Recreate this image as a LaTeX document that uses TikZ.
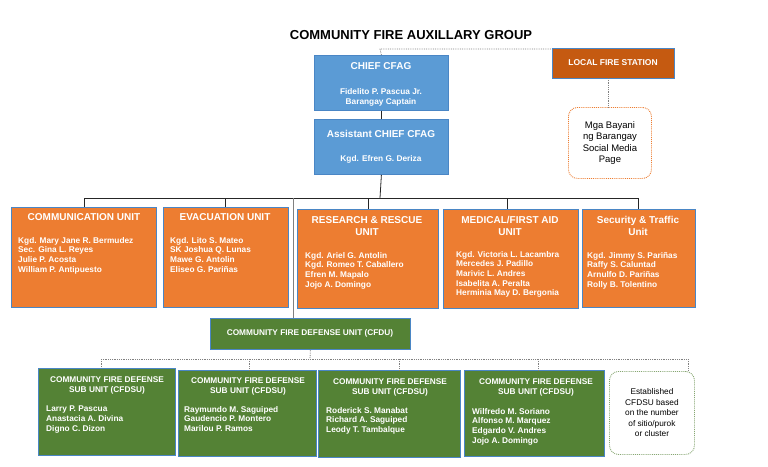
\documentclass[tikz,border=0pt]{standalone}
\usepackage{fontspec}
\setmainfont{Liberation Sans}
\begin{document}
\begin{tikzpicture}[x=1pt,y=-1pt,
  box/.style={draw=#1, line width=0.8pt, anchor=north west, inner sep=0pt},
  blu/.style={box=blue!40!black!60!white, fill=cblue, draw=bblue},
  org/.style={fill=corange, draw=bblue, line width=0.8pt, anchor=north west, inner sep=0pt},
  grn/.style={fill=cgreen, draw=bblue, line width=0.8pt, anchor=north west, inner sep=0pt},
  ttl/.style={text=white, font=\fontsize{10}{11.5}\selectfont\bfseries, align=center, anchor=north},
  nm/.style={text=white, font=\fontsize{8.3}{9.6}\selectfont\bfseries, align=left, anchor=north west, inner sep=0pt},
  ln/.style={line width=0.8pt, black!85},
  dl/.style={densely dotted, gray, line width=0.8pt}]
\definecolor{cblue}{HTML}{5B9BD5}
\definecolor{bblue}{HTML}{4A86C5}
\definecolor{corange}{HTML}{ED7D31}
\definecolor{cgreen}{HTML}{548235}
\definecolor{cbrown}{HTML}{C55A11}
\useasboundingbox (0,0) rectangle (768,466);
\fill[white] (0,0) rectangle (768,466);
\node[font=\fontsize{13}{14}\selectfont\bfseries] (title) at (411,35) {COMMUNITY FIRE AUXILLARY GROUP};
% chief
\node[org, fill=cblue, minimum width=134pt, minimum height=55pt] (chief) at (314,55) {};
\node[ttl] (chiefT) at (381,59) {CHIEF CFAG};
\node[ttl, font=\fontsize{8.3}{10}\selectfont\bfseries] (chiefN) at (381,85) {Fidelito P. Pascua Jr.\\Barangay Captain};
\node[org, fill=cblue, minimum width=134pt, minimum height=55pt] (asst) at (314,119) {};
\node[ttl] (asstT) at (381,127) {Assistant CHIEF CFAG};
\node[ttl, font=\fontsize{8.3}{10}\selectfont\bfseries] (asstN) at (381,152) {Kgd. Efren G. Deriza};
\node[org, fill=cbrown, minimum width=122pt, minimum height=30pt] (lfs) at (552,48) {};
\node[text=white, font=\fontsize{8.5}{10}\selectfont\bfseries] (lfsT) at (613,63) {LOCAL FIRE STATION};
\node[draw=corange, densely dotted, line width=0.9pt, rounded corners=9pt, minimum width=83pt, minimum height=71pt, anchor=north west, align=center, font=\fontsize{9.5}{11.5}\selectfont] (mga) at (568,107) {Mga Bayani\\ng Barangay\\Social Media\\Page};
\draw[ln] (chief.south) -- (asst.north);
\draw[dl] (chief.north) -- (380,49) -- (lfs.west |- 0,49);
\draw[dl] (608,78) -- (mga.north -| 608,0);
% units
\coordinate (bus) at (380,198);
\draw[ln] (asst.south) -- (bus);
\draw[ln] (84,198) -- (638,198);
\node[org, minimum width=145pt, minimum height=100pt] (comm) at (11,207) {};
\node[org, minimum width=125pt, minimum height=100pt] (evac) at (163,207) {};
\node[org, minimum width=141pt, minimum height=99pt] (rr) at (297,209) {};
\node[org, minimum width=135pt, minimum height=99pt] (med) at (443,209) {};
\node[org, minimum width=113pt, minimum height=98pt] (sec) at (582,209) {};
\foreach \n/\x in {comm/84,evac/225,rr/368,med/507,sec/638}{\draw[ln] (\x,198) -- (\n.north -| \x,0);}
\node[ttl] (commT) at (84,210) {COMMUNICATION UNIT};
\node[nm] (commN) at (18,237) {Kgd. Mary Jane R. Bermudez\\Sec. Gina L. Reyes\\Julie P. Acosta\\William P. Antipuesto};
\node[ttl] (evacT) at (225,210) {EVACUATION UNIT};
\node[nm] (evacN) at (170,237) {Kgd. Lito S. Mateo\\SK Joshua Q. Lunas\\Mawe G. Antolin\\Eliseo G. Pariñas};
\node[ttl] (rrT) at (367,213) {RESEARCH \& RESCUE\\UNIT};
\node[nm] (rrN) at (305,252) {Kgd. Ariel G. Antolin\\Kgd. Romeo T. Caballero\\Efren M. Mapalo\\Jojo A. Domingo};
\node[ttl] (medT) at (510,213) {MEDICAL/FIRST AID\\UNIT};
\node[nm] (medN) at (456,251) {Kgd. Victoria L. Lacambra\\Mercedes J. Padillo\\Marivic L. Andres\\Isabelita A. Peralta\\Herminia May D. Bergonia};
\node[ttl] (secT) at (638,213) {Security \& Traffic\\Unit};
\node[nm] (secN) at (587,252) {Kgd. Jimmy S. Pariñas\\Raffy S. Caluntad\\Arnulfo D. Pariñas\\Rolly B. Tolentino};
% CFDU
\node[grn, minimum width=200pt, minimum height=31pt] (cfdu) at (210,318) {};
\node[text=white, font=\fontsize{8.3}{10}\selectfont\bfseries] (cfduT) at (310,333) {COMMUNITY FIRE DEFENSE UNIT (CFDU)};
\draw[ln, gray] (293,198) -- (cfdu.north -| 293,0);
\draw[dl] (cfdu.south) -- (310,359);
\draw[dl] (101,359) -- (688,359);
\node[grn, minimum width=137pt, minimum height=87pt] (s1) at (38,368) {};
\node[grn, minimum width=138pt, minimum height=86pt] (s2) at (178,370) {};
\node[grn, minimum width=142pt, minimum height=87pt] (s3) at (318,370) {};
\node[grn, minimum width=140pt, minimum height=86pt] (s4) at (464,370) {};
\node[draw=cgreen!70, densely dotted, line width=0.9pt, rounded corners=9pt, minimum width=85pt, minimum height=83pt, anchor=north west, align=center, font=\fontsize{8.3}{10.5}\selectfont] (note) at (609,371) {Established\\CFDSU based\\on the number\\of sitio/purok\\or cluster};
\foreach \n/\x in {s1/101,s2/249,s3/399,s4/538,note/688}{\draw[dl] (\x,359) -- (\n.north -| \x,0);}
\tikzset{st/.style={ttl, font=\fontsize{8.3}{10.5}\selectfont\bfseries}}
\node[st] (s1T) at (107,373) {COMMUNITY FIRE DEFENSE\\SUB UNIT (CFDSU)};
\node[nm] (s1N) at (46,406) {Larry P. Pascua\\Anastacia A. Divina\\Digno C. Dizon};
\node[st] (s2T) at (248,374) {COMMUNITY FIRE DEFENSE\\SUB UNIT (CFDSU)};
\node[nm] (s2N) at (184,406) {Raymundo M. Saguiped\\Gaudencio P. Montero\\Marilou P. Ramos};
\node[st] (s3T) at (390,375) {COMMUNITY FIRE DEFENSE\\SUB UNIT (CFDSU)};
\node[nm] (s3N) at (326,407) {Roderick S. Manabat\\Richard A. Saguiped\\Leody T. Tambalque};
\node[st] (s4T) at (536,375) {COMMUNITY FIRE DEFENSE\\SUB UNIT (CFDSU)};
\node[nm] (s4N) at (472,408) {Wilfredo M. Soriano\\Alfonso M. Marquez\\Edgardo V. Andres\\Jojo A. Domingo};
\end{tikzpicture}
\end{document}
